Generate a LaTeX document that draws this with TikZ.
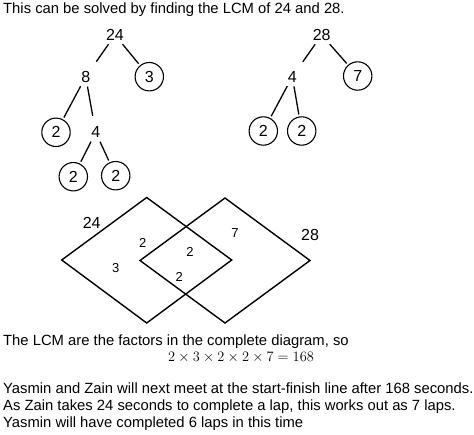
\documentclass[tikz,border=0pt]{standalone}
\usepackage[no-math]{fontspec}
\setmainfont{Liberation Sans}
\usepackage{amsmath}
\usetikzlibrary{positioning}

\begin{document}
\begin{tikzpicture}[x=1pt, y=-1pt,
    txt/.style={font=\fontsize{14.8}{17}\selectfont, inner sep=0pt, anchor=base west},
    num/.style={font=\fontsize{16}{19}\selectfont, inner sep=1pt},
    leaf/.style={num, circle, draw, line width=1.1pt, minimum size=28.4pt, inner sep=0pt},
    small/.style={font=\fontsize{13}{15}\selectfont, inner sep=0pt},
    every edge/.style={draw, line width=1.3pt, shorten <=3pt},
    tonum/.style={shorten >=10pt},
    toleaf/.style={shorten >=2pt},
    venn/.style={line width=1.4pt, line join=miter}]
    \useasboundingbox (0,0) rectangle (474,434);

    \node[txt] (intro) at (3,13.5) {This can be solved by finding the LCM of 24 and 28.};

    % factor tree of 24
    \node[num] (a24) at (115,35) {24};
    \node[num] (a8) at (85.7,76.7) {8};
    \node[leaf] (a3) at (149.3,76.7) {3};
    \node[leaf] (a2) at (56,132.3) {2};
    \node[num] (a4) at (95.7,132.3) {4};
    \node[leaf] (a2l) at (73.3,176.7) {2};
    \node[leaf] (a2r) at (115.7,175.7) {2};

    \draw (a24) edge[tonum] (a8);
    \draw (a24) edge[toleaf] (a3);
    \draw (a8) edge[toleaf] (a2);
    \draw (a8) edge[tonum] (a4);
    \draw (a4) edge[toleaf] (a2l);
    \draw (a4) edge[toleaf] (a2r);

    % factor tree of 28
    \node[num] (b28) at (321.7,35) {28};
    \node[num] (b4) at (292.3,76.7) {4};
    \node[leaf] (b7) at (357.7,76) {7};
    \node[leaf] (b2l) at (263.3,131) {2};
    \node[leaf] (b2r) at (301.7,131) {2};

    \draw (b28) edge[tonum] (b4);
    \draw (b28) edge[toleaf] (b7);
    \draw (b4) edge[toleaf] (b2l);
    \draw (b4) edge[toleaf] (b2r);

    % venn diagram
    \coordinate (lw) at (61.7,260);
    \coordinate (ln) at (146.7,197.5);
    \coordinate (le) at (231.7,260);
    \coordinate (ls) at (146.7,323);
    \coordinate (rw) at (140,260.5);
    \coordinate (rn) at (225,198);
    \coordinate (re) at (310,260.5);
    \coordinate (rs) at (225,323);
    \draw[venn] (lw) -- (ln) -- (le) -- (ls) -- cycle;
    \draw[venn] (rw) -- (rn) -- (re) -- (rs) -- cycle;

    \node[num, inner sep=0pt] (v24) at (91.7,222.7) {24};
    \node[num, inner sep=0pt] (v28) at (310,235) {28};
    \node[small] (v7) at (235,233.3) {7};
    \node[small] (v2a) at (142.7,242.7) {2};
    \node[small] (v2b) at (190,251.7) {2};
    \node[small] (v3) at (115.7,268.3) {3};
    \node[small] (v2c) at (179.3,277.3) {2};

    \node[txt] (lcm) at (3,345) {The LCM are the factors in the complete diagram, so};
    \node[font=\fontsize{14.5}{17}\selectfont, inner sep=0pt, anchor=base] (calc) at (241,361.5) {$2\times3\times2\times2\times7=168$};

    \node[txt] (ans1) at (3,393.7) {Yasmin and Zain will next meet at the start-finish line after 168 seconds.};
    \node[txt] (ans2) at (3,410.5) {As Zain takes 24 seconds to complete a lap, this works out as 7 laps.};
    \node[txt] (ans3) at (3,427.3) {Yasmin will have completed 6 laps in this time};
\end{tikzpicture}
\end{document}
